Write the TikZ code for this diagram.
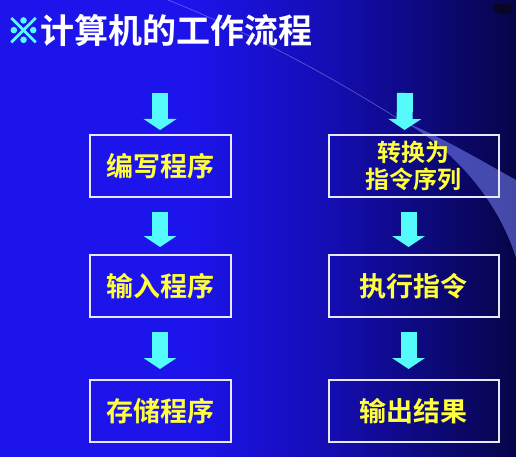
\documentclass[tikz,border=0pt]{standalone}
\usepackage{fontspec}
\newfontfamily\cjk{Noto Sans CJK SC Bold}
\newfontfamily\refmark[FakeBold=4]{Noto Sans CJK SC Bold}
\usetikzlibrary{positioning,arrows.meta}

\definecolor{bgA}{RGB}{28,20,235}
\definecolor{bgB}{RGB}{20,13,178}
\definecolor{bgC}{RGB}{6,5,72}
\definecolor{sweep}{RGB}{120,130,245}
\definecolor{flow}{RGB}{85,250,250}
\definecolor{label}{RGB}{255,255,60}
\definecolor{boxline}{RGB}{232,232,255}
\definecolor{smudge}{RGB}{8,6,40}

\begin{document}
\begin{tikzpicture}[x = 1pt, y = -1pt,
    box/.style = {draw = boxline, line width = 2pt, outer sep = 0pt, inner sep = 0pt,
        minimum width = 141pt, minimum height = 62pt, align = center,
        text = label, font = \cjk\fontsize{27}{32}\selectfont},
    wide/.style = {minimum width = 170pt},
    down/.style = {draw = flow, line width = 16pt,
        -{Triangle[width = 33pt, length = 11pt, line width = 0pt]}}
    ]
    \useasboundingbox (0, 0) rectangle (516, 457);
    % background
    \fill[bgA] (0, 0) rectangle (190.5, 457);
    \shade[left color = bgA, right color = bgB] (190, 0) rectangle (330.5, 457);
    \shade[left color = bgB, right color = bgC] (330, 0) rectangle (516, 457);
    \fill[sweep, opacity = 0.55] (402, 121) 
    .. controls (440, 136) and (480, 160) .. (516, 180) 
    -- (516, 258) 
    .. controls (495, 190) and (440, 140) .. (402, 121) 
    -- cycle;
    \draw[white, opacity = 0.3, line width = 0.7pt] (168, 0) 
    .. controls (280, 45) and (360, 95) .. (405, 123);
    \fill[smudge] (494, 4) -- (512, 4) -- (512, 12) -- (503, 15) -- (494, 12) -- cycle;

    \node[anchor = west, text = white, font = \cjk\fontsize{34}{40}\selectfont] (title) 
    at (3, 30) {\textcolor{flow}{\refmark ※}计算机的工作流程};

    \node[box] (write) at (160, 166) {编写程序};
    \node[box, below = 58pt of write] (input) {输入程序};
    \node[box, below = 63pt of input] (store) {存储程序};

    \node[box, wide, right = 98pt of write, font = \cjk\fontsize{24}{27}\selectfont] (convert) 
    {转换为\\指令序列};
    \node[box, wide, below = 58pt of convert] (execute) {执行指令};
    \node[box, wide, below = 63pt of execute] (output) {输出结果};

    \coordinate (startL) at (160, 93);
    \coordinate (startR) at (405, 93);
    \draw[down] (startL) -- ([yshift = 5pt]write.north);
    \draw[down] ([yshift = -15pt]write.south) -- ([yshift = 8pt]input.north);
    \draw[down] ([yshift = -15pt]input.south) -- ([yshift = 11pt]store.north);
    \draw[down] (startR) -- ([xshift = -9pt, yshift = 5pt]convert.north);
    \draw[down] ([xshift = -5pt, yshift = -15pt]convert.south) -- ([xshift = -5pt, yshift = 8pt]execute.north);
    \draw[down] ([xshift = -5pt, yshift = -15pt]execute.south) -- ([xshift = -5pt, yshift = 11pt]output.north);
\end{tikzpicture}
\end{document}
